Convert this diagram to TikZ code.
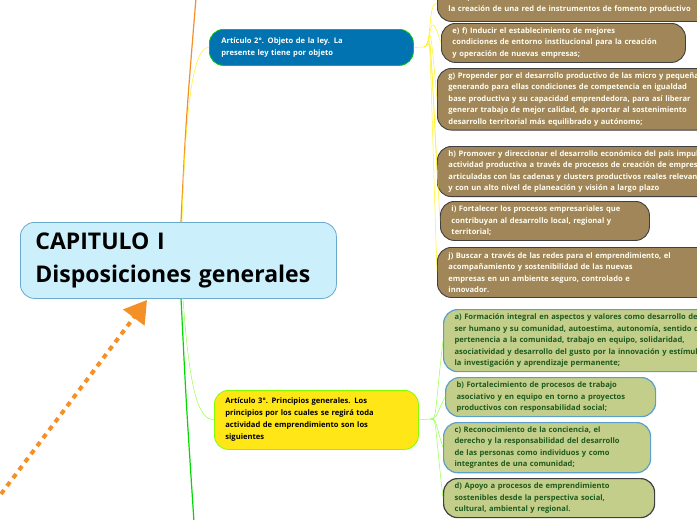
\documentclass[tikz,border=0pt]{standalone}
\usepackage{fontspec}
\setmainfont{Open Sans}
\usetikzlibrary{arrows.meta}
\definecolor{brownf}{HTML}{A08658}
\definecolor{greenf}{HTML}{C2CE8A}
\definecolor{greent}{HTML}{1E5A1E}
\definecolor{bluer}{HTML}{5AA0C8}
\definecolor{orangea}{HTML}{F39028}
\tikzset{
 brownbox/.style={draw=black!75,line width=0.9pt,fill=brownf,rounded corners=14pt,text=white!95!yellow,
   font=\bfseries\fontsize{7.6}{11.5}\selectfont,align=left,anchor=north west,inner xsep=11pt,inner ysep=4pt},
 greenbox/.style={draw=bluer,line width=1.2pt,fill=greenf,rounded corners=14pt,text=greent,
   font=\bfseries\fontsize{7.6}{11.5}\selectfont,align=left,anchor=north west,inner xsep=11pt,inner ysep=4pt},
 ybr/.style={draw=yellow!90!white,line width=0.5pt},
 gbr/.style={draw=green!60!yellow!70!white,line width=0.5pt},
}
\begin{document}
\begin{tikzpicture}[x=1pt,y=-1pt]
\clip (0,0) rectangle (697,520);
\fill[white] (0,0) rectangle (697,520);
% main trunk lines
\draw[orangea,line width=1.2pt] (181,222) .. controls (186,120) .. (196,-2);
\draw[green!85!black,line width=1.2pt] (181,298) .. controls (186,400) .. (194,522);
% central
\node[draw=bluer!90,line width=0.8pt,fill=cyan!20!white,rounded corners=14pt,align=left,anchor=north west,
  minimum height=76pt,text width=286pt,inner xsep=15pt,font=\bfseries\fontsize{23}{33}\selectfont] (c) at (20,222)
  {CAPITULO I\\Disposiciones generales};
% article 2
\node[draw=green!80!black,line width=0.8pt,fill={rgb,255:red,0;green,115;blue,176},rounded corners=14pt,text=white,
  font=\bfseries\fontsize{7.6}{12}\selectfont,align=left,anchor=north west,minimum width=203pt,minimum height=36pt,
  text width=180pt,inner xsep=12pt] (a2) at (209,29) {Artículo 2°. Objeto de la ley. La\\presente ley tiene por objeto};
% article 3
\node[draw=green!50!yellow,line width=0.8pt,fill={rgb,255:red,255;green,230;blue,23},rounded corners=14pt,
  font=\bfseries\fontsize{7.6}{12}\selectfont,align=left,anchor=north west,minimum width=204pt,minimum height=59pt,
  text width=182pt,inner xsep=11pt] (a3) at (214,390) {Artículo 3°. Principios generales. Los\\principios por los cuales se regirá toda\\actividad de emprendimiento son los\\siguientes};
% brown boxes
\node[brownbox,minimum height=36pt,text width=300pt] (bd) at (437,-15) {e emprendimiento a través del fortalecimiento de un sistema\\la creación de una red de instrumentos de fomento productivo};
\node[brownbox,minimum height=39pt,text width=222pt] (be) at (441,23) {e) f) Inducir el establecimiento de mejores\\condiciones de entorno institucional para la creación\\y operación de nuevas empresas;};
\node[brownbox,minimum height=60pt,text width=300pt] (bg) at (437,68) {g) Propender por el desarrollo productivo de las micro y pequeñas\\generando para ellas condiciones de competencia en igualdad\\base productiva y su capacidad emprendedora, para así liberar\\generar trabajo de mejor calidad, de aportar al sostenimiento\\desarrollo territorial más equilibrado y autónomo;};
\node[brownbox,minimum height=50pt,text width=300pt] (bh) at (437,146) {h) Promover y direccionar el desarrollo económico del país impulsando\\actividad productiva a través de procesos de creación de empresas\\articuladas con las cadenas y clusters productivos reales relevantes\\y con un alto nivel de planeación y visión a largo plazo};
\node[brownbox,minimum height=39pt,text width=187pt] (bi) at (440,201) {i) Fortalecer los procesos empresariales que\\contribuyan al desarrollo local, regional y\\territorial;};
\node[brownbox,minimum height=50pt,text width=300pt] (bj) at (437,247) {j) Buscar a través de las redes para el emprendimiento, el\\acompañamiento y sostenibilidad de las nuevas\\empresas en un ambiente seguro, controlado e\\innovador.};
% green boxes
\node[greenbox,minimum height=62pt,text width=300pt] (ga) at (443,309) {a) Formación integral en aspectos y valores como desarrollo del\\ser humano y su comunidad, autoestima, autonomía, sentido de\\pertenencia a la comunidad, trabajo en equipo, solidaridad,\\asociatividad y desarrollo del gusto por la innovación y estímulo a\\la investigación y aprendizaje permanente;};
\node[greenbox,minimum height=39pt,text width=188pt] (gb) at (445,377) {b) Fortalecimiento de procesos de trabajo\\asociativo y en equipo en torno a proyectos\\productivos con responsabilidad social;};
\node[greenbox,minimum height=49pt,text width=185pt] (gc) at (443,422) {c) Reconocimiento de la conciencia, el\\derecho y la responsabilidad del desarrollo\\de las personas como individuos y como\\integrantes de una comunidad;};
\node[greenbox,draw=black!75,minimum height=39pt,text width=189pt] (gd) at (443,478) {d) Apoyo a procesos de emprendimiento\\sostenibles desde la perspectiva social,\\cultural, ambiental y regional.};
% connectors
\draw[ybr] (182,222) .. controls (186,90) and (195,47) .. (a2.west);
\draw[gbr] (183,298) .. controls (190,400) and (200,419) .. (a3.west);
\coordinate (j2) at (424,47);
\draw[ybr] (a2.east) -- (j2);
\foreach \n in {bd,be,bg,bh,bi,bj}{
  \draw[ybr] (j2) .. controls (432,47) and (428,0) .. (\n.west);
}
\coordinate (j3) at (430,419);
\draw[gbr] (a3.east) -- (j3);
\foreach \n in {ga,gb,gc,gd}{
  \draw[gbr] (j3) .. controls (437,419) and (434,419) .. (\n.west);
}
% dotted arrow
\coordinate (s) at (-5,502);
\draw[orangea,line width=4pt,dash pattern=on 5pt off 5pt,-{Triangle[length=22pt,width=26pt]}] (s) -- (147,300);
\end{tikzpicture}
\end{document}
